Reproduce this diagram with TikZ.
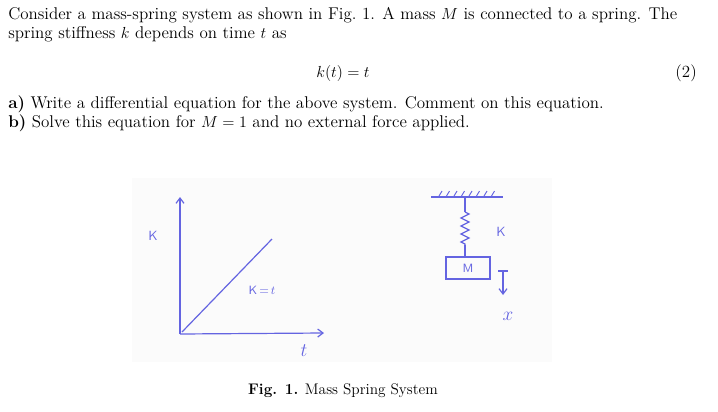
\documentclass[tikz,border=0pt]{standalone}
\usetikzlibrary{arrows.meta,decorations.pathmorphing}
\begin{document}
\begin{tikzpicture}[x=0.75pt,y=-0.75pt,
  txt/.style={anchor=base west,inner sep=0,font=\fontsize{12.75}{14.5}\selectfont},
  hand/.style={draw=handblue,line width=0.9pt},
  hlab/.style={text=handblue,font=\sffamily,inner sep=0},
  harrow/.style={hand,-{Straight Barb[length=4pt,width=6pt]}}]
\definecolor{handblue}{RGB}{100,100,225}
\useasboundingbox (0,0) rectangle (718,411);
\fill[black!1.5] (132,178) rectangle (552,362);
\node[txt] (l1) at (8,19) {Consider a mass-spring system as shown in Fig.~1. A mass $M$ is connected to a spring. The};
\node[txt] (l2) at (8,38) {spring stiffness $k$ depends on time $t$ as};
\node[txt,anchor=base] (eq) at (343,77) {$k(t) = t$};
\node[txt,anchor=base east] (num) at (697,77) {(2)};
\node[txt] (qa) at (8,108) {\textbf{a)} Write a differential equation for the above system. Comment on this equation.};
\node[txt] (qb) at (8,127) {\textbf{b)} Solve this equation for $M=1$ and no external force applied.};
% graph
\coordinate (o) at (180,334);
\coordinate (ytop) at (180,197);
\coordinate (xend) at (324,333);
\coordinate (d1) at (182,332);
\coordinate (d2) at (272,239);
\draw[harrow] (o) -- (ytop);
\draw[harrow] (o) -- (xend);
\draw[hand] (d1) -- (d2);
\node[hlab] (kl) at (153,236) {K};
\node[hlab,font=\sffamily\small] (kt) at (262,290) {K\,=\,$t$};
\node[hlab,font=\Large] (tl) at (304,351) {$t$};
% spring system
\coordinate (c1) at (431,197);
\coordinate (c2) at (503,197);
\draw[hand] (c1) -- (c2);
\foreach \i in {0,...,7} \draw[draw=handblue,line width=0.7pt] (439+\i*7.5,196) -- (442+\i*7.5,191);
\coordinate (s0) at (465,197);
\coordinate (s1) at (465,212);
\coordinate (s2) at (465,245);
\node[hand,minimum width=33pt,minimum height=16.5pt,inner sep=0] (m) at (468,268) {};
\node[hlab,font=\sffamily\small] (ml) at (m) {M};
\draw[hand] (s0) -- (s1);
\draw[hand,decorate,decoration={zigzag,segment length=6pt,amplitude=3pt}] (s1) -- (s2);
\draw[hand] (s2) -- (m.north -| s2);
\node[hlab] (kr) at (501,232) {K};
\coordinate (a1) at (503,271);
\coordinate (a2) at (503,295);
\draw[hand] (498,271) -- (508,271);
\draw[harrow] (a1) -- (a2);
\node[hlab,font=\Large] (xl) at (508,316) {$x$};
\node[txt,anchor=base,font=\fontsize{11.5}{13}\selectfont] (cap) at (343,394) {\textbf{Fig. 1.} Mass Spring System};
\end{tikzpicture}
\end{document}
